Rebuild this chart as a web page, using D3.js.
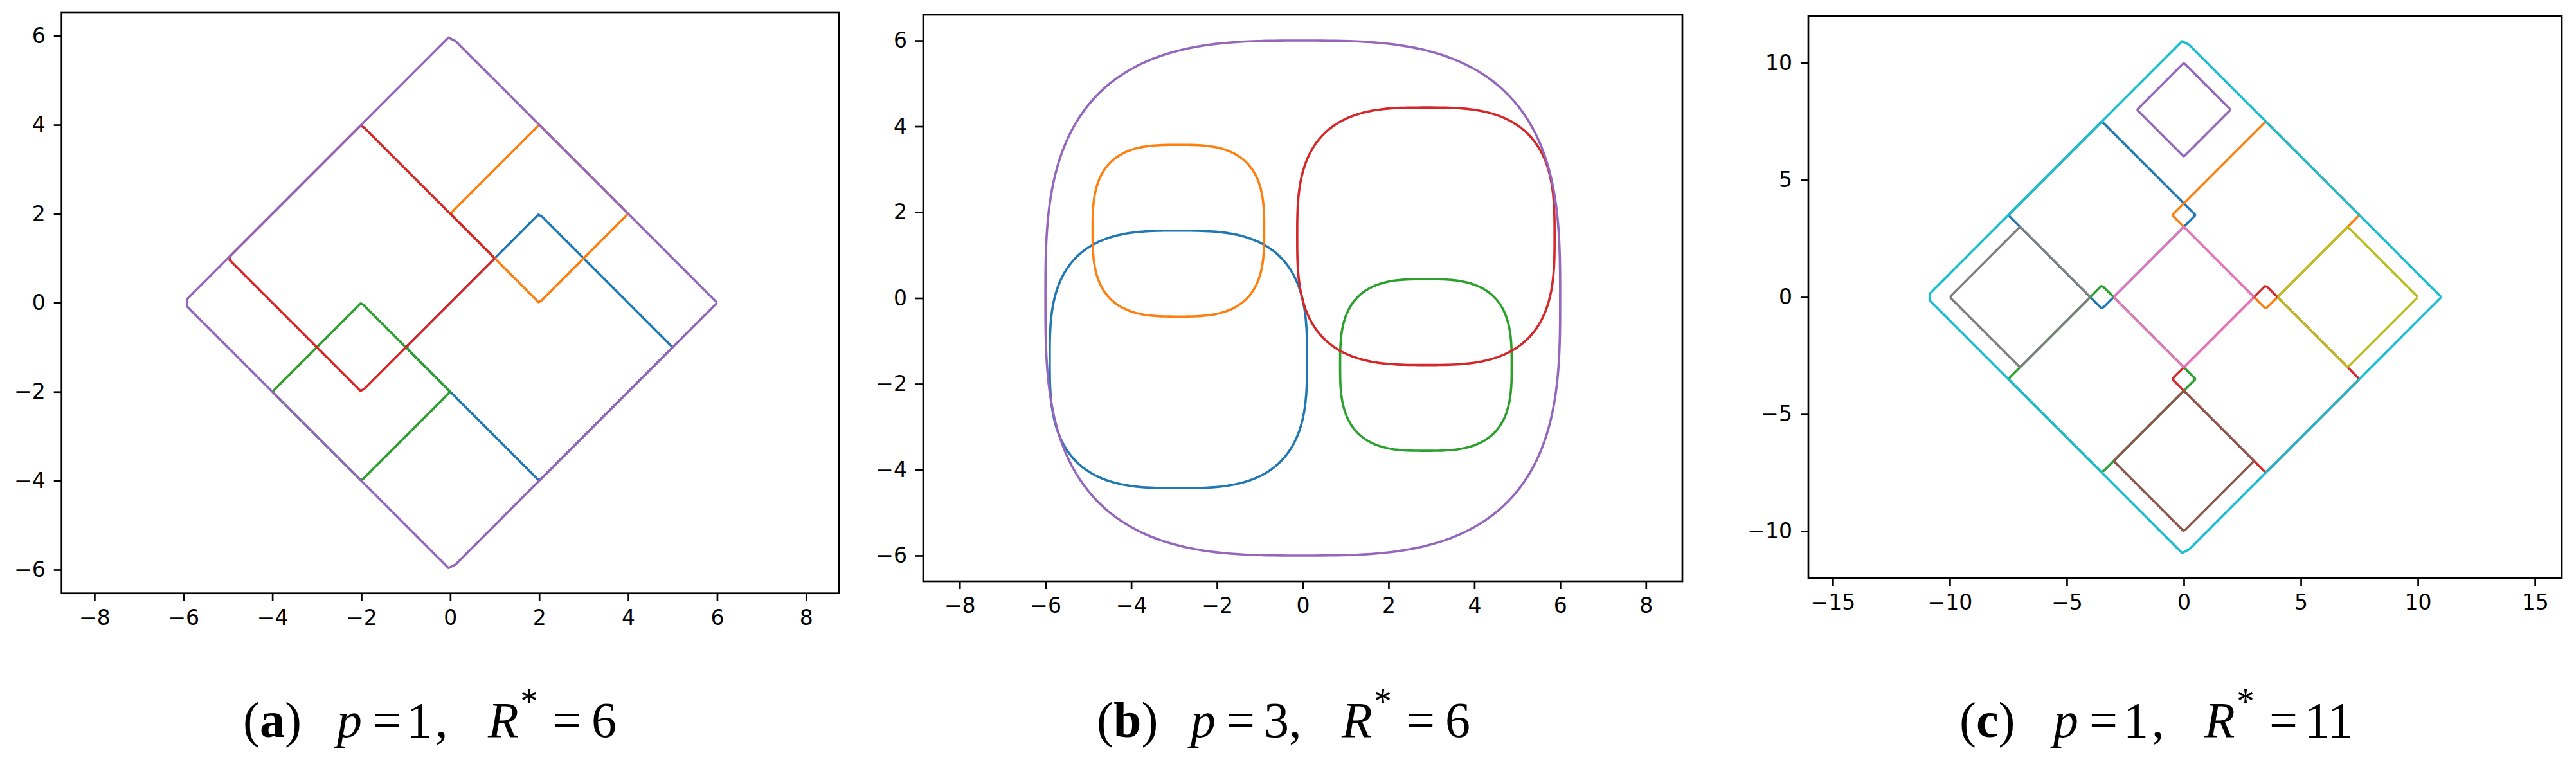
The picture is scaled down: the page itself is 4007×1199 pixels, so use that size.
<!DOCTYPE html>
<html>
<head>
<meta charset="utf-8">
<script src="https://cdn.jsdelivr.net/npm/d3@7"></script>
<style>
  body { margin: 0; background: #fff; }
</style>
</head>
<body>
<svg id="root" width="4007" height="1199"></svg>
<script>
const colors = ['#1f77b4', '#ff7f0e', '#2ca02c', '#d62728', '#9467bd', '#8c564b', '#e377c2', '#7f7f7f', '#bcbd22', '#17becf']

// (a) p = 1, R* = 6 : centre and radius of every l_p circle
const centersA = [[2, -1], [2, 2], [-2, -2], [-2, 1], [0, 0]]
const radiiA = [3, 2, 2, 3, 6]
const xTicksA = [-8, -6, -4, -2, 0, 2, 4, 6, 8]
const yTicksA = [-6, -4, -2, 0, 2, 4, 6]

// (b) p = 3, R* = 6
const centersB = [[-2.9, -1.43], [-2.9, 1.57], [2.87, -1.56], [2.87, 1.44], [0, 0]]
const radiiB = [3, 2, 2, 3, 6]
const xTicksB = [-8, -6, -4, -2, 0, 2, 4, 6, 8]
const yTicksB = [-6, -4, -2, 0, 2, 4, 6]

// (c) p = 1, R* = 11
const centersC = [[-3.5, 3.5], [3.5, 3.5], [-3.5, -3.5], [3.5, -3.5], [0, 8], [0, -7], [0, 0], [-7, 0], [7, 0], [0, 0]]
const radiiC = [4, 4, 4, 4, 2, 3, 3, 3, 3, 11]
const xTicksC = [-15, -10, -5, 0, 5, 10, 15]
const yTicksC = [-10, -5, 0, 5, 10]

const captionLetters = ['a', 'b', 'c']
const captionP = ['1', '3', '1']
const captionR = ['6', '6', '11']

const samples = 236

let panels = [
  { p: 1, centers: centersA, radii: radiiA, xTicks: xTicksA, yTicks: yTicksA,
    left: 95.7, right: 1305, top: 19, bottom: 922.7, xlim: [-8.74, 8.74], ylim: [-6.53, 6.53], cap: 382 },
  { p: 3, centers: centersB, radii: radiiB, xTicks: xTicksB, yTicks: yTicksB,
    left: 1436, right: 2617, top: 23, bottom: 904, xlim: [-8.85, 8.85], ylim: [-6.6, 6.6], cap: 1710 },
  { p: 1, centers: centersC, radii: radiiC, xTicks: xTicksC, yTicks: yTicksC,
    left: 2813, right: 3985, top: 25, bottom: 899, xlim: [-16.04, 16.15], ylim: [-12, 12], cap: 3052 }
]

function lpCircle (c, r, p) {
  return d3.range(samples).map((k) => {
    let t = 2 * Math.PI * k / (samples - 1)
    let cs = Math.cos(t)
    let sn = Math.sin(t)
    let s = Math.pow(Math.pow(Math.abs(cs), p) + Math.pow(Math.abs(sn), p), 1 / p)
    return [c[0] + r * cs / s, c[1] + r * sn / s]
  })
}

let root = d3.select('#root')

root.append('rect')
  .attr('width', '100%')
  .attr('height', '100%')
  .attr('fill', 'white')

const tickFont = 'DejaVu Sans, sans-serif'
const capFont = 'Liberation Serif, Times New Roman, serif'

panels.forEach((pn, idx) => {
  let x = d3.scaleLinear().domain(pn.xlim).range([pn.left, pn.right])
  let y = d3.scaleLinear().domain(pn.ylim).range([pn.bottom, pn.top])
  let line = d3.line().x((d) => x(d[0])).y((d) => y(d[1]))
  let g = root.append('g')

  g.selectAll('path.curve')
    .data(pn.centers)
    .enter()
    .append('path')
    .attr('class', 'curve')
    .attr('d', (c, i) => line(lpCircle(c, pn.radii[i], pn.p)))
    .attr('fill', 'none')
    .attr('stroke', (c, i) => colors[i])
    .attr('stroke-width', 3.6)
    .attr('stroke-linejoin', 'round')

  let xAxis = g.append('g')
    .attr('transform', `translate(0,${pn.bottom})`)
    .call(d3.axisBottom(x).tickValues(pn.xTicks).tickSize(12).tickPadding(14))
  let yAxis = g.append('g')
    .attr('transform', `translate(${pn.left},0)`)
    .call(d3.axisLeft(y).tickValues(pn.yTicks).tickSize(12).tickPadding(13))

  ;[xAxis, yAxis].forEach((a) => {
    a.select('.domain').remove()
    a.selectAll('line').attr('stroke', '#000').attr('stroke-width', 2.7)
    a.selectAll('text')
      .attr('fill', '#000')
      .attr('font-family', tickFont)
      .attr('font-size', 33)
  })

  g.append('rect')
    .attr('x', pn.left)
    .attr('y', pn.top)
    .attr('width', pn.right - pn.left)
    .attr('height', pn.bottom - pn.top)
    .attr('fill', 'none')
    .attr('stroke', '#000')
    .attr('stroke-width', 2.7)

  // caption: (a)  p = 1 ,  R* = 6
  let cap = g.append('g')
    .attr('font-family', capFont)
    .attr('font-size', 78)
    .attr('fill', '#000')
  let base = 1146
  let lbl = cap.append('text').attr('x', pn.cap - 4).attr('y', base)
  lbl.append('tspan').text('(')
  lbl.append('tspan').attr('font-weight', 'bold').text(captionLetters[idx])
  lbl.append('tspan').text(')')
  let pieces = [
    { t: 'p', dx: 142, it: true },
    { t: '=', dx: 198 },
    { t: captionP[idx], dx: captionP[idx] === '1' ? 251 : 256 },
    { t: ',', dx: 295 },
    { t: 'R', dx: 377, it: true },
    { t: '=', dx: 478 },
    { t: captionR[idx], dx: captionR[idx] === '6' ? 538 : 533 }
  ]
  pieces.forEach((d) => {
    cap.append('text')
      .attr('x', pn.cap + d.dx)
      .attr('y', base)
      .attr('font-style', d.it ? 'italic' : 'normal')
      .text(d.t)
  })
  cap.append('text')
    .attr('x', pn.cap + 427)
    .attr('y', 1110)
    .attr('font-size', 56)
    .text('*')
})
</script>
</body>
</html>
